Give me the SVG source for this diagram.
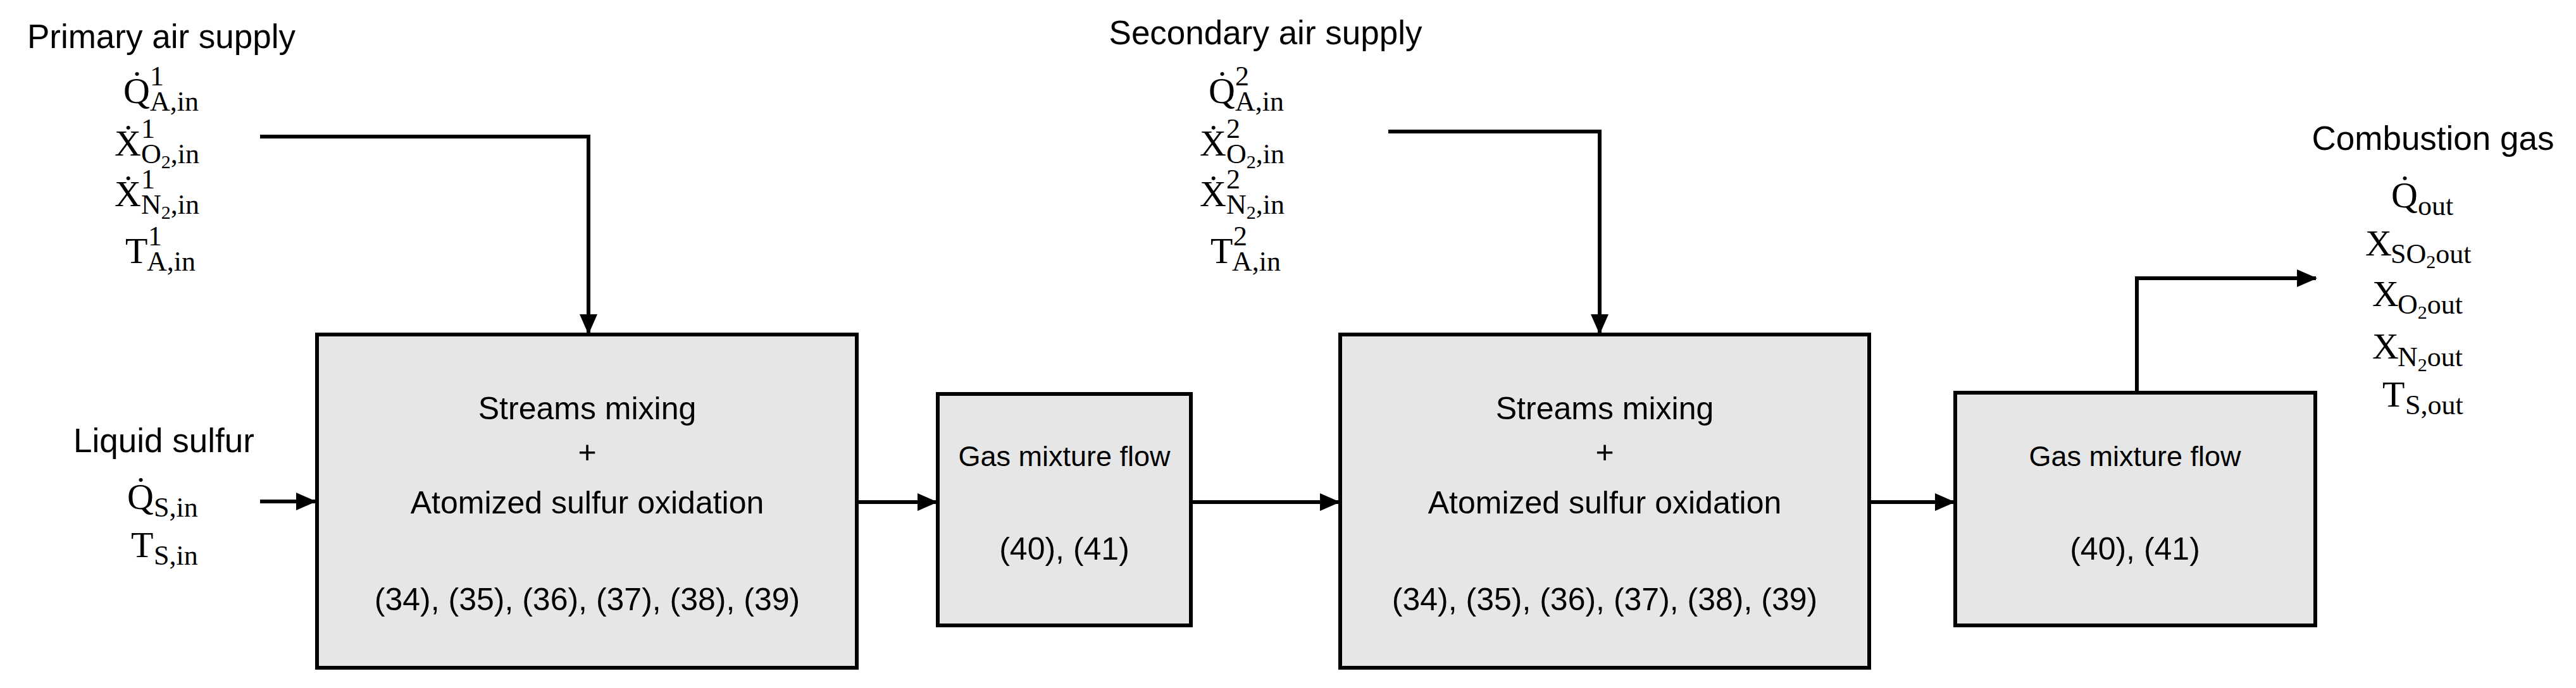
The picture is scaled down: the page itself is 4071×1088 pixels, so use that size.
<svg xmlns="http://www.w3.org/2000/svg" width="4071" height="1088" viewBox="0 0 4071 1088">
<style>
.t{font-family:"Liberation Sans",Arial,sans-serif;font-size:50px;fill:#000}
.h{font-family:"Liberation Sans",Arial,sans-serif;font-size:53px;fill:#000}
.g{font-family:"Liberation Sans",Arial,sans-serif;font-size:45px;fill:#000}
.m{font-family:"Liberation Serif","Times New Roman",serif;font-size:58px;fill:#000}
.s{font-size:44px}
.u{font-size:30px}
.box{fill:#e6e6e6;stroke:#000;stroke-width:6}
.c{fill:none;stroke:#000;stroke-width:6}
</style>
<defs>
<marker id="a" markerUnits="userSpaceOnUse" markerWidth="32" markerHeight="28" refX="30" refY="14" orient="auto"><path d="M0,0 L32,14 L0,28 Z" fill="#000"/></marker>
</defs>
<rect width="4071" height="1088" fill="#fff"/>
<g id="connectors">
<path class="c" d="M411,216 H930 V527" marker-end="url(#a)"/>
<path class="c" d="M411,793 H498" marker-end="url(#a)"/>
<path class="c" d="M1354,794 H1480" marker-end="url(#a)"/>
<path class="c" d="M1882,794 H2116" marker-end="url(#a)"/>
<path class="c" d="M2194,208 H2528 V527" marker-end="url(#a)"/>
<path class="c" d="M2954,794 H3088" marker-end="url(#a)"/>
<path class="c" d="M3377,621 V440 H3660" marker-end="url(#a)"/>
</g>
<g id="primary-air">
<text class="h" x="255" y="76" text-anchor="middle">Primary air supply</text>
<text class="m" x="195" y="163">Q̇<tspan class="s" x="237" y="135">1</tspan><tspan class="s" x="237" y="175">A,in</tspan></text>
<text class="m" x="181" y="246">Ẋ<tspan class="s" x="223" y="218">1</tspan><tspan class="s" x="223" y="258">O</tspan><tspan class="u" y="266">2</tspan><tspan class="s" y="258">,in</tspan></text>
<text class="m" x="181" y="326">Ẋ<tspan class="s" x="223" y="298">1</tspan><tspan class="s" x="223" y="338">N</tspan><tspan class="u" y="346">2</tspan><tspan class="s" y="338">,in</tspan></text>
<text class="m" x="198" y="416">T<tspan class="s" x="234" y="388">1</tspan><tspan class="s" x="232" y="428">A,in</tspan></text>
</g>
<g id="liquid-sulfur">
<text class="h" x="259" y="715" text-anchor="middle">Liquid sulfur</text>
<text class="m" x="201" y="805">Q̇<tspan class="s" x="243" y="817">S,in</tspan></text>
<text class="m" x="207" y="881">T<tspan class="s" x="243" y="893">S,in</tspan></text>
</g>
<g id="secondary-air">
<text class="h" x="2000" y="70" text-anchor="middle">Secondary air supply</text>
<text class="m" x="1910" y="163">Q̇<tspan class="s" x="1952" y="135">2</tspan><tspan class="s" x="1952" y="175">A,in</tspan></text>
<text class="m" x="1896" y="246">Ẋ<tspan class="s" x="1938" y="218">2</tspan><tspan class="s" x="1938" y="258">O</tspan><tspan class="u" y="266">2</tspan><tspan class="s" y="258">,in</tspan></text>
<text class="m" x="1896" y="326">Ẋ<tspan class="s" x="1938" y="298">2</tspan><tspan class="s" x="1938" y="338">N</tspan><tspan class="u" y="346">2</tspan><tspan class="s" y="338">,in</tspan></text>
<text class="m" x="1913" y="416">T<tspan class="s" x="1949" y="388">2</tspan><tspan class="s" x="1947" y="428">A,in</tspan></text>
</g>
<g id="combustion-gas">
<text class="h" x="3845" y="237" text-anchor="middle">Combustion gas</text>
<text class="m" x="3779" y="328">Q̇<tspan class="s" x="3821" y="340">out</tspan></text>
<text class="m" x="3738" y="404">X<tspan class="s" x="3778" y="416">SO</tspan><tspan class="u" y="424">2</tspan><tspan class="s" y="416">out</tspan></text>
<text class="m" x="3749" y="484">X<tspan class="s" x="3789" y="496">O</tspan><tspan class="u" y="504">2</tspan><tspan class="s" y="496">out</tspan></text>
<text class="m" x="3749" y="567">X<tspan class="s" x="3789" y="579">N</tspan><tspan class="u" y="587">2</tspan><tspan class="s" y="579">out</tspan></text>
<text class="m" x="3765" y="643">T<tspan class="s" x="3801" y="655">S,out</tspan></text>
</g>
<g id="box1">
<rect class="box" x="501" y="529" width="853" height="527"/>
<text class="t" x="928" y="663" text-anchor="middle">Streams mixing</text>
<text class="t" x="928" y="732" text-anchor="middle">+</text>
<text class="t" x="928" y="812" text-anchor="middle">Atomized sulfur oxidation</text>
<text class="t" x="928" y="965" text-anchor="middle">(34), (35), (36), (37), (38), (39)</text>
</g>
<g id="box2">
<rect class="box" x="1482" y="623" width="400" height="366"/>
<text class="g" x="1682" y="737" text-anchor="middle">Gas mixture flow</text>
<text class="t" x="1682" y="885" text-anchor="middle">(40), (41)</text>
</g>
<g id="box3">
<rect class="box" x="2118" y="529" width="836" height="527"/>
<text class="t" x="2536" y="663" text-anchor="middle">Streams mixing</text>
<text class="t" x="2536" y="732" text-anchor="middle">+</text>
<text class="t" x="2536" y="812" text-anchor="middle">Atomized sulfur oxidation</text>
<text class="t" x="2536" y="965" text-anchor="middle">(34), (35), (36), (37), (38), (39)</text>
</g>
<g id="box4">
<rect class="box" x="3090" y="621" width="569" height="368"/>
<text class="g" x="3374" y="737" text-anchor="middle">Gas mixture flow</text>
<text class="t" x="3374" y="885" text-anchor="middle">(40), (41)</text>
</g>
</svg>
